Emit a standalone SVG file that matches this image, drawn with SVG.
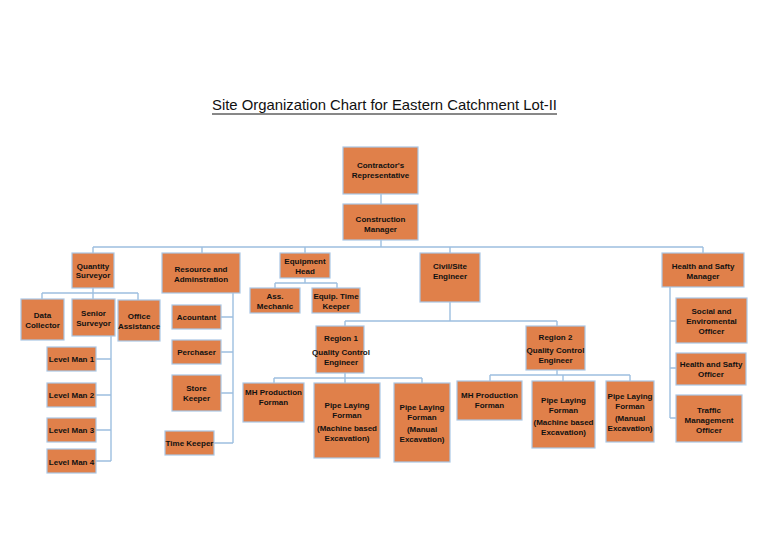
<svg xmlns="http://www.w3.org/2000/svg" width="768" height="543" viewBox="0 0 768 543">
<style>
.b{fill:#E0804A;stroke:#A9C6E4;stroke-width:1.2}
.t{font-family:"Liberation Sans",Arial,sans-serif;font-weight:bold;font-size:8px;fill:#111;text-anchor:middle}
.c{fill:none;stroke:#9DBFE0;stroke-width:1.4}
.title{font-family:"Liberation Sans",Arial,sans-serif;font-size:14.5px;fill:#111}
</style>
<rect width="768" height="543" fill="#fff"/>
<text class="title" x="212" y="110" textLength="345" lengthAdjust="spacingAndGlyphs">Site Organization Chart for Eastern Catchment Lot-II</text>
<line x1="212" y1="114" x2="557" y2="114" stroke="#111" stroke-width="1"/>
<g id="connectors" class="c">
<path d="M381 194V204M381 240V247M93 247H703M93 247V253M202 247V253M305 247V253M450 247V253M703 247V253"/>
<path d="M93 288V293M42 293H138M42 293V299M93 293V299M138 293V300M111 336V461M96 359H111M96 395H111M96 430H111M96 461H111"/>
<path d="M233 293V443M221 317H233M221 352H233M221 393H233M214 443H233"/>
<path d="M305 278V283M275 283H337M275 283V288M337 283V288"/>
<path d="M450 302V321M345 321H557M345 321V326M557 321V326"/>
<path d="M345 373V378M274 378H422M274 378V383M345 378V383M422 378V383"/>
<path d="M557 370V375M490 375H630M490 375V381M563 375V381M630 375V381"/>
<path d="M670 287V418M670 321H676M670 368H676M670 418H676"/>
</g>
<g id="contractor-rep"><rect class="b" x="343" y="147" width="75" height="47"/><text class="t"><tspan x="380.5" y="168">Contractor's</tspan><tspan x="380.5" y="178">Representative</tspan></text></g>
<g id="construction-manager"><rect class="b" x="343" y="204" width="75" height="36"/><text class="t"><tspan x="380.5" y="222">Construction</tspan><tspan x="380.5" y="232">Manager</tspan></text></g>
<g id="quantity-surveyor"><rect class="b" x="72" y="253" width="42" height="35"/><text class="t"><tspan x="93" y="268.5">Quantity</tspan><tspan x="93" y="278">Surveyor</tspan></text></g>
<g id="data-collector"><rect class="b" x="21" y="299" width="43" height="41"/><text class="t"><tspan x="42.5" y="317.5">Data</tspan><tspan x="42.5" y="327.5">Collector</tspan></text></g>
<g id="senior-surveyor"><rect class="b" x="72" y="299" width="43" height="37"/><text class="t"><tspan x="93.5" y="315.5">Senior</tspan><tspan x="93.5" y="325.5">Surveyor</tspan></text></g>
<g id="office-assistance"><rect class="b" x="118" y="300" width="42" height="41"/><text class="t"><tspan x="139" y="318.5">Office</tspan><tspan x="139" y="328.5">Assistance</tspan></text></g>
<g id="level-man-1"><rect class="b" x="47" y="347" width="49" height="24"/><text class="t" x="71.5" y="362">Level Man 1</text></g>
<g id="level-man-2"><rect class="b" x="47" y="383" width="49" height="24"/><text class="t" x="71.5" y="397.8">Level Man 2</text></g>
<g id="level-man-3"><rect class="b" x="47" y="418" width="49" height="24"/><text class="t" x="71.5" y="433">Level Man 3</text></g>
<g id="level-man-4"><rect class="b" x="47" y="449" width="49" height="24"/><text class="t" x="71.5" y="464.5">Level Man 4</text></g>
<g id="resource-admin"><rect class="b" x="162" y="253" width="78" height="40"/><text class="t"><tspan x="201" y="271.5">Resource and</tspan><tspan x="201" y="281.5">Adminstration</tspan></text></g>
<g id="acountant"><rect class="b" x="172" y="305" width="49" height="24"/><text class="t" x="196.5" y="320">Acountant</text></g>
<g id="perchaser"><rect class="b" x="172" y="340" width="49" height="24"/><text class="t" x="196.5" y="355">Perchaser</text></g>
<g id="store-keeper"><rect class="b" x="172" y="375" width="49" height="36"/><text class="t"><tspan x="196.5" y="390.5">Store</tspan><tspan x="196.5" y="400.5">Keeper</tspan></text></g>
<g id="time-keeper"><rect class="b" x="165" y="431" width="49" height="24"/><text class="t" x="189.5" y="445.5">Time Keeper</text></g>
<g id="equipment-head"><rect class="b" x="280" y="253" width="50" height="25"/><text class="t"><tspan x="305" y="263.5">Equipment</tspan><tspan x="305" y="273.5">Head</tspan></text></g>
<g id="ass-mechanic"><rect class="b" x="250" y="288" width="50" height="25"/><text class="t"><tspan x="275" y="298.8">Ass.</tspan><tspan x="275" y="308.5">Mechanic</tspan></text></g>
<g id="equip-time-keeper"><rect class="b" x="312" y="288" width="48" height="25"/><text class="t"><tspan x="336" y="298.8">Equip. Time</tspan><tspan x="336" y="308.5">Keeper</tspan></text></g>
<g id="civil-site-engineer"><rect class="b" x="420" y="253" width="60" height="49"/><text class="t"><tspan x="450" y="268.8">Civil/Site</tspan><tspan x="450" y="278.8">Engineer</tspan></text></g>
<g id="region-1"><rect class="b" x="316" y="326" width="48" height="47"/><text class="t"><tspan x="341" y="341">Region 1</tspan><tspan x="341" y="355">Quality Control</tspan><tspan x="341" y="365">Engineer</tspan></text></g>
<g id="r1-mh"><rect class="b" x="243" y="383" width="61" height="39"/><text class="t"><tspan x="273.5" y="394.5">MH Production</tspan><tspan x="273.5" y="404.5">Forman</tspan></text></g>
<g id="r1-pipe-machine"><rect class="b" x="314" y="383" width="66" height="75"/><text class="t"><tspan x="347" y="407.8">Pipe Laying</tspan><tspan x="347" y="417.8">Forman</tspan><tspan x="347" y="431">(Machine based</tspan><tspan x="347" y="441">Excavation)</tspan></text></g>
<g id="r1-pipe-manual"><rect class="b" x="394" y="383" width="56" height="79"/><text class="t"><tspan x="422" y="410">Pipe Laying</tspan><tspan x="422" y="420">Forman</tspan><tspan x="422" y="432">(Manual</tspan><tspan x="422" y="442">Excavation)</tspan></text></g>
<g id="region-2"><rect class="b" x="526" y="326" width="59" height="44"/><text class="t"><tspan x="555.5" y="339.5">Region 2</tspan><tspan x="555.5" y="352.8">Quality Control</tspan><tspan x="555.5" y="362.8">Engineer</tspan></text></g>
<g id="r2-mh"><rect class="b" x="457" y="381" width="65" height="39"/><text class="t"><tspan x="489.5" y="398">MH Production</tspan><tspan x="489.5" y="408">Forman</tspan></text></g>
<g id="r2-pipe-machine"><rect class="b" x="532" y="381" width="63" height="67"/><text class="t"><tspan x="563.5" y="402.8">Pipe Laying</tspan><tspan x="563.5" y="412.8">Forman</tspan><tspan x="563.5" y="424.5">(Machine based</tspan><tspan x="563.5" y="434.5">Excavation)</tspan></text></g>
<g id="r2-pipe-manual"><rect class="b" x="606" y="381" width="48" height="61"/><text class="t"><tspan x="630" y="398.8">Pipe Laying</tspan><tspan x="630" y="408.8">Forman</tspan><tspan x="630" y="421">(Manual</tspan><tspan x="630" y="431">Excavation)</tspan></text></g>
<g id="health-safety-manager"><rect class="b" x="662" y="253" width="82" height="34"/><text class="t"><tspan x="703" y="268.8">Health and Safty</tspan><tspan x="703" y="278.8">Manager</tspan></text></g>
<g id="social-env-officer"><rect class="b" x="676" y="298" width="71" height="45"/><text class="t"><tspan x="711.5" y="313.5">Social and</tspan><tspan x="711.5" y="323.5">Enviromental</tspan><tspan x="711.5" y="333.5">Officer</tspan></text></g>
<g id="health-safety-officer"><rect class="b" x="676" y="353" width="70" height="32"/><text class="t"><tspan x="711" y="366.8">Health and Safty</tspan><tspan x="711" y="377">Officer</tspan></text></g>
<g id="traffic-officer"><rect class="b" x="676" y="395" width="66" height="47"/><text class="t"><tspan x="709" y="412.8">Traffic</tspan><tspan x="709" y="422.8">Management</tspan><tspan x="709" y="432.8">Officer</tspan></text></g>
</svg>
